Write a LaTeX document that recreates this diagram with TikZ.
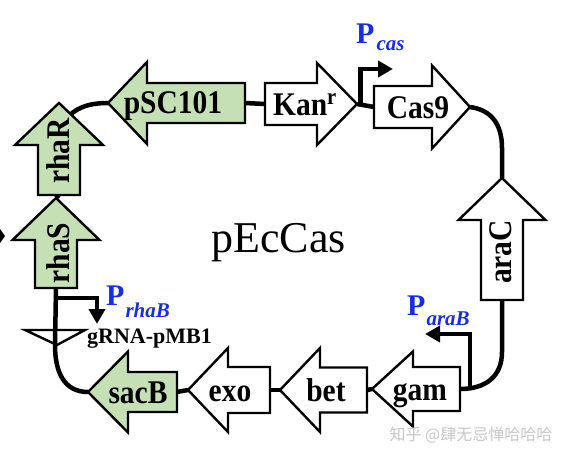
\documentclass[tikz,border=0pt]{standalone}
\usepackage{fontspec}
\setmainfont{Liberation Serif}
\newfontfamily\cjkfont{Noto Sans CJK SC}
\usetikzlibrary{arrows.meta,calc}
\definecolor{genegreen}{RGB}{197,224,180}
\definecolor{pblue}{RGB}{25,45,230}
\tikzset{
  backbone/.style={line width=4.5pt},
  geneout/.style={draw=black, line width=2.4pt, line join=miter},
  greengene/.style={geneout, fill=genegreen},
  whitegene/.style={geneout, fill=white},
  promoter/.style={line width=4.5pt, line join=miter, -{Triangle[length=15pt,width=16pt]}},
  genelabel/.style={font=\fontsize{29.5}{30}\selectfont\bfseries, inner sep=0pt, text height=22pt, text depth=0pt},
  plabel/.style={font=\fontsize{30}{30}\selectfont\bfseries, text=pblue, inner sep=0pt},
  pics/gene/.style n args={4}{code={
    \path[pic actions] (0,#3) -- ({#1-#2},#3) -- ({#1-#2},#4) -- (#1,0) -- ({#1-#2},-#4) -- ({#1-#2},-#3) -- (0,-#3) -- cycle;
    \coordinate (-tail) at (0,0);
    \coordinate (-tip) at (#1,0);
  }},
}
\newcommand{\subfnt}{\fontsize{21}{21}\selectfont\bfseries\itshape}
\newcommand{\tall}[1]{\scalebox{1}[1.12]{#1}}
\begin{document}
\begin{tikzpicture}[x=1pt, y=-1pt]
\useasboundingbox (0,0) rectangle (570,458);
% --- coordinates of the gene arrows (drawn later)
\pic[rotate=180] (psc) at (245,103) {gene={137}{39}{20}{41}};
\pic (kan) at (265,104) {gene={92}{40}{21}{41}};
\pic (cas) at (374,107) {gene={96}{38}{21}{41.5}};
\pic[rotate=90] (arac) at (502,300) {gene={122}{42}{21}{43.5}};
\pic[rotate=180] (gam) at (460,389) {gene={88}{41}{22}{37.5}};
\pic[rotate=180] (bet) at (367,390) {gene={87}{40}{22.5}{42}};
\pic[rotate=180] (exo) at (270,390) {gene={82}{40}{23}{42}};
\pic[rotate=180] (sacb) at (177,392) {gene={89}{40}{20}{40.5}};
\pic[rotate=90] (rhas) at (56,288) {gene={90}{42}{21}{43.5}};
\pic[rotate=90] (rhar) at (59,195) {gene={92}{42}{21}{44}};
\coordinate (term) at (55,330);
% --- backbone connectors
\draw[backbone] ($(rhar-tip)+(6,17)$) .. controls (75,108) and (88,103) .. (psc-tip);
\draw[backbone] (rhar-tail) -- (rhas-tip);
\draw[backbone] (psc-tail) -- (kan-tail);
\draw[backbone] (kan-tip) -- (cas-tail);
\draw[backbone] (cas-tip) .. controls (492,110) and (502,125) .. ($(arac-tip)+(0,-30)$) -- (arac-tip);
\draw[backbone] (arac-tail) -- ($(arac-tail)+(0,52)$) .. controls +(0,25) and +(25,0) .. (gam-tail);
\draw[backbone] (gam-tip) -- (bet-tail);
\draw[backbone] (bet-tip) -- (exo-tail);
\draw[backbone] (exo-tip) -- (sacb-tail);
\draw[backbone] (sacb-tip) .. controls (64,392) and (55,372) .. ($(term)+(0,15)$);
% --- gene arrows drawn on top
\pic[greengene, rotate=180] (psc) at (245,103) {gene={137}{39}{20}{41}};
\pic[whitegene] (kan) at (265,104) {gene={92}{40}{21}{41}};
\pic[whitegene] (cas) at (374,107) {gene={96}{38}{21}{41.5}};
\pic[whitegene, rotate=90] (arac) at (502,300) {gene={122}{42}{21}{43.5}};
\pic[whitegene, rotate=180] (gam) at (460,389) {gene={88}{41}{22}{37.5}};
\pic[whitegene, rotate=180] (bet) at (367,390) {gene={87}{40}{22.5}{42}};
\pic[whitegene, rotate=180] (exo) at (270,390) {gene={82}{40}{23}{42}};
\pic[greengene, rotate=180] (sacb) at (177,392) {gene={89}{40}{20}{40.5}};
\pic[greengene, rotate=90] (rhas) at (56,288) {gene={90}{42}{21}{43.5}};
\pic[greengene, rotate=90] (rhar) at (59,195) {gene={92}{42}{21}{44}};
% --- terminator
\draw[whitegene] ($(term)+(-30,0)$) -- ($(term)+(30,0)$) -- ($(term)+(2,15)$) -- cycle;
\draw[backbone] (rhas-tail) -- ($(term)+(0,15)$);
% --- promoters
\coordinate (pcas-base) at ($(kan-tip)!0.2!(cas-tail)$);
\coordinate (pcas-end) at (393,69);
\draw[promoter] (pcas-base) |- (pcas-end);
\coordinate (parab-base) at ($(gam-tail)+(10,0)$);
\coordinate (parab-end) at (425,334);
\draw[promoter] (parab-base) |- (parab-end);
\coordinate (prhab-base) at ($(rhas-tail)+(0,10)$);
\coordinate (prhab-end) at (97,324);
\draw[promoter] (prhab-base) -| (prhab-end);
% --- labels
\node[genelabel] (psc-label) at (173,102) {\tall{pSC101}};
\node[genelabel] (kan-label) at (305,104) {\tall{Kan\textsuperscript{r}}};
\node[genelabel] (cas-label) at (418,107) {\tall{Cas9}};
\node[genelabel, rotate=90] (arac-label) at (500,252) {\tall{araC}};
\node[genelabel] (gam-label) at (420,389) {\tall{gam}};
\node[genelabel] (bet-label) at (326,390) {\tall{bet}};
\node[genelabel] (exo-label) at (230,390) {\tall{exo}};
\node[genelabel] (sacb-label) at (138,392) {\tall{sacB}};
\node[genelabel, rotate=90] (rhas-label) at (58,253) {\tall{rhaS}};
\node[genelabel, rotate=90] (rhar-label) at (58,151) {\tall{rhaR}};
\node[plabel, anchor=base west] (pcas-label) at (356,43) {P\hspace{2pt}\raisebox{-7pt}{\subfnt cas}};
\node[plabel, anchor=base west] (parab-label) at (407,315) {P\hspace{1pt}\raisebox{-10pt}{\subfnt araB}};
\node[plabel, anchor=base west] (prhab-label) at (106,305) {P\hspace{1pt}\raisebox{-12pt}{\subfnt rhaB}};
\node[font=\fontsize{22}{22}\selectfont\bfseries, inner sep=0pt, anchor=base west] (term-label) at (87,343) {gRNA-pMB1};
\node[font=\fontsize{44}{44}\selectfont, inner sep=0pt, anchor=base] (title) at (278.5,252) {pEcCas};
\node[font=\cjkfont\fontsize{16}{16}\selectfont, text=gray!45, inner sep=0pt] (wm) at (471,435) {知乎 @肆无忌惮哈哈哈};
% --- cut-off arrowhead at the left edge
\fill (0,229) -- (5,236) -- (0,243) -- cycle;
\end{tikzpicture}
\end{document}
